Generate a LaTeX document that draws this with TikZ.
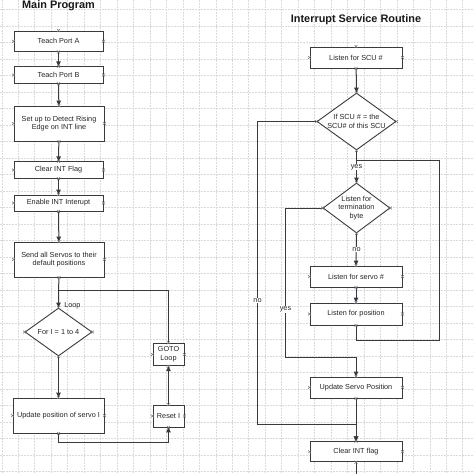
\documentclass[tikz,border=0pt]{standalone}
\usepackage{fontspec}
\setmainfont{Liberation Sans}
\usetikzlibrary{shapes.geometric,arrows.meta}
\definecolor{ln}{HTML}{3A3A3A}
\definecolor{gridc}{HTML}{DADADA}
\definecolor{xmc}{HTML}{7878A0}
\tikzset{
  box/.style={draw=ln, line width=0.9pt, fill=white, rectangle, inner sep=0pt, font=\fontsize{7.3}{8.6}\selectfont, text=black!85, align=center},
  dia/.style={draw=ln, line width=0.9pt, fill=white, diamond, inner sep=0pt},
  dtext/.style={font=\fontsize{7.3}{8.6}\selectfont, text=black!85, align=center, inner sep=0pt},
  conn/.style={draw=ln, line width=1pt},
  arr/.style={conn, -{Triangle[length=5pt,width=4.5pt]}},
  lab/.style={font=\fontsize{7.3}{8.6}\selectfont, text=black!85, inner sep=0.6pt},
  lablbg/.style={lab, fill=white},
  ttl/.style={font=\bfseries\fontsize{10.9}{12}\selectfont, text=black!90, inner sep=0pt, anchor=base},
  xmark/.style={draw=xmc, line width=0.5pt}
}
\begin{document}
\begin{tikzpicture}[x=1pt,y=-1pt]
\useasboundingbox (0,0) rectangle (474,474);
\fill[white] (0,0) rectangle (474,474);
% grid
\foreach \i in {0,...,29} {
  \draw[gridc, line width=0.5pt, dash pattern=on 2pt off 1pt] ({1.8+16.46*\i},0) -- ({1.8+16.46*\i},474);
  \draw[gridc, line width=0.5pt, dash pattern=on 2pt off 1pt] (0,{9.7+16.5*(\i-1)}) -- (474,{9.7+16.5*(\i-1)});
}
% titles
\node[ttl] (t1) at (58.5,8) {Main Program};
\node[ttl] (t2) at (356,22.5) {Interrupt Service Routine};
% main program
\node[box, minimum width=89pt, minimum height=20.5pt] (tA) at (58.5,41.3) {Teach Port A};
\node[box, minimum width=89pt, minimum height=16.5pt] (tB) at (58.5,75) {Teach Port B};
\node[box, minimum width=90pt, minimum height=35pt] (su) at (59,123.5) {Set up to Detect Rising\\Edge on INT line};
\node[box, minimum width=89pt, minimum height=16.5pt] (cf) at (58.5,170) {Clear INT Flag};
\node[box, minimum width=89pt, minimum height=16pt] (en) at (58.5,203) {Enable INT Interupt};
\node[box, minimum width=90pt, minimum height=35pt] (sa) at (59,259.5) {Send all Servos to their\\default positions};
\node[dia, minimum width=67pt, minimum height=48pt] (d0) at (58.5,332) {};
\node[dtext] (d0t) at (d0) {For I = 1 to 4};
\node[box, minimum width=91pt, minimum height=35pt] (up) at (58.5,415.5) {Update position of servo I};
\node[box, minimum width=31pt, minimum height=22.5pt] (gl) at (168.5,354.5) {GOTO\\Loop};
\node[box, minimum width=31pt, minimum height=22pt] (rs) at (168.5,416) {Reset I};
\coordinate (j0) at (58.5,290.5);
\coordinate (b0) at (58.5,442.5);
\draw[arr] (tA) -- (tB);
\draw[arr] (tB) -- (su);
\draw[arr] (su) -- (cf);
\draw[arr] (cf) -- (en);
\draw[arr] (en) -- (sa);
\draw[arr] (sa) -- (d0.north);
\draw[conn] (gl.north) |- (j0);
\node[lab, anchor=west] (loopl) at (63.5,305.3) {Loop};
\draw[arr] (d0.south) -- (up);
\draw[arr] (up.south) -- (b0) -| (rs.south);
\draw[arr] (rs) -- (gl);
% ISR
\node[box, minimum width=92pt, minimum height=21pt] (ls) at (356,57.5) {Listen for SCU \#};
\node[dia, minimum width=79pt, minimum height=57pt] (d1) at (356.5,121.5) {};
\node[dtext] (d1t) at (d1) {If SCU \# = the\\SCU\# of this SCU};
\node[dia, minimum width=67pt, minimum height=50pt] (d2) at (356.5,208) {};
\node[dtext] (d2t) at (d2) {Listen for\\termination\\byte};
\node[box, minimum width=92pt, minimum height=21pt] (lsv) at (356,276.5) {Listen for servo \#};
\node[box, minimum width=92pt, minimum height=22pt] (lp) at (356,314) {Listen for position};
\node[box, minimum width=92pt, minimum height=21pt] (us) at (356,387.5) {Update Servo Position};
\node[box, minimum width=92pt, minimum height=20pt] (ci) at (356,451.8) {Clear INT flag};
\coordinate (c1) at (257.5,424.5);
\coordinate (c2) at (285.5,357.5);
\coordinate (c3) at (439.5,340.5);
\coordinate (c4) at (439.5,160.5);
\coordinate (c5) at (356.5,160.5);
\coordinate (c6) at (356,474);
\draw[arr] (ls) -- (d1.north);
\draw[arr] (d1.south) -- (d2.north);
\draw[arr] (d1.west) -| (c1) -| (ci.north);
\draw[arr] (d2.west) -| (c2) -| (us.north);
\draw[arr] (d2.south) -- (lsv.north);
\draw[arr] (lsv) -- (lp);
\draw[conn] (lp.south) |- (c3) -- (c4) -- (c5);
\draw[arr] (us) -- (ci);
\draw[conn] (ci.south) -- (c6);
\node[lablbg] (yes1) at (356.5,167) {yes};
\node[lablbg] (no1) at (257.5,300.5) {no};
\node[lablbg] (yes2) at (285.5,309.5) {yes};
\node[lablbg] (no2) at (356.5,249.5) {no};
% connection point markers
\foreach \n in {tA,tB,su,cf,en,sa,d0,up,gl,rs,ls,d1,d2,lsv,lp,us,ci} {
  \foreach \a in {north,south,east,west} {
    \draw[xmark] (\n.\a) +(-1.5,-1.5) -- +(1.5,1.5) +(-1.5,1.5) -- +(1.5,-1.5);
  }
}
\end{tikzpicture}
\end{document}
